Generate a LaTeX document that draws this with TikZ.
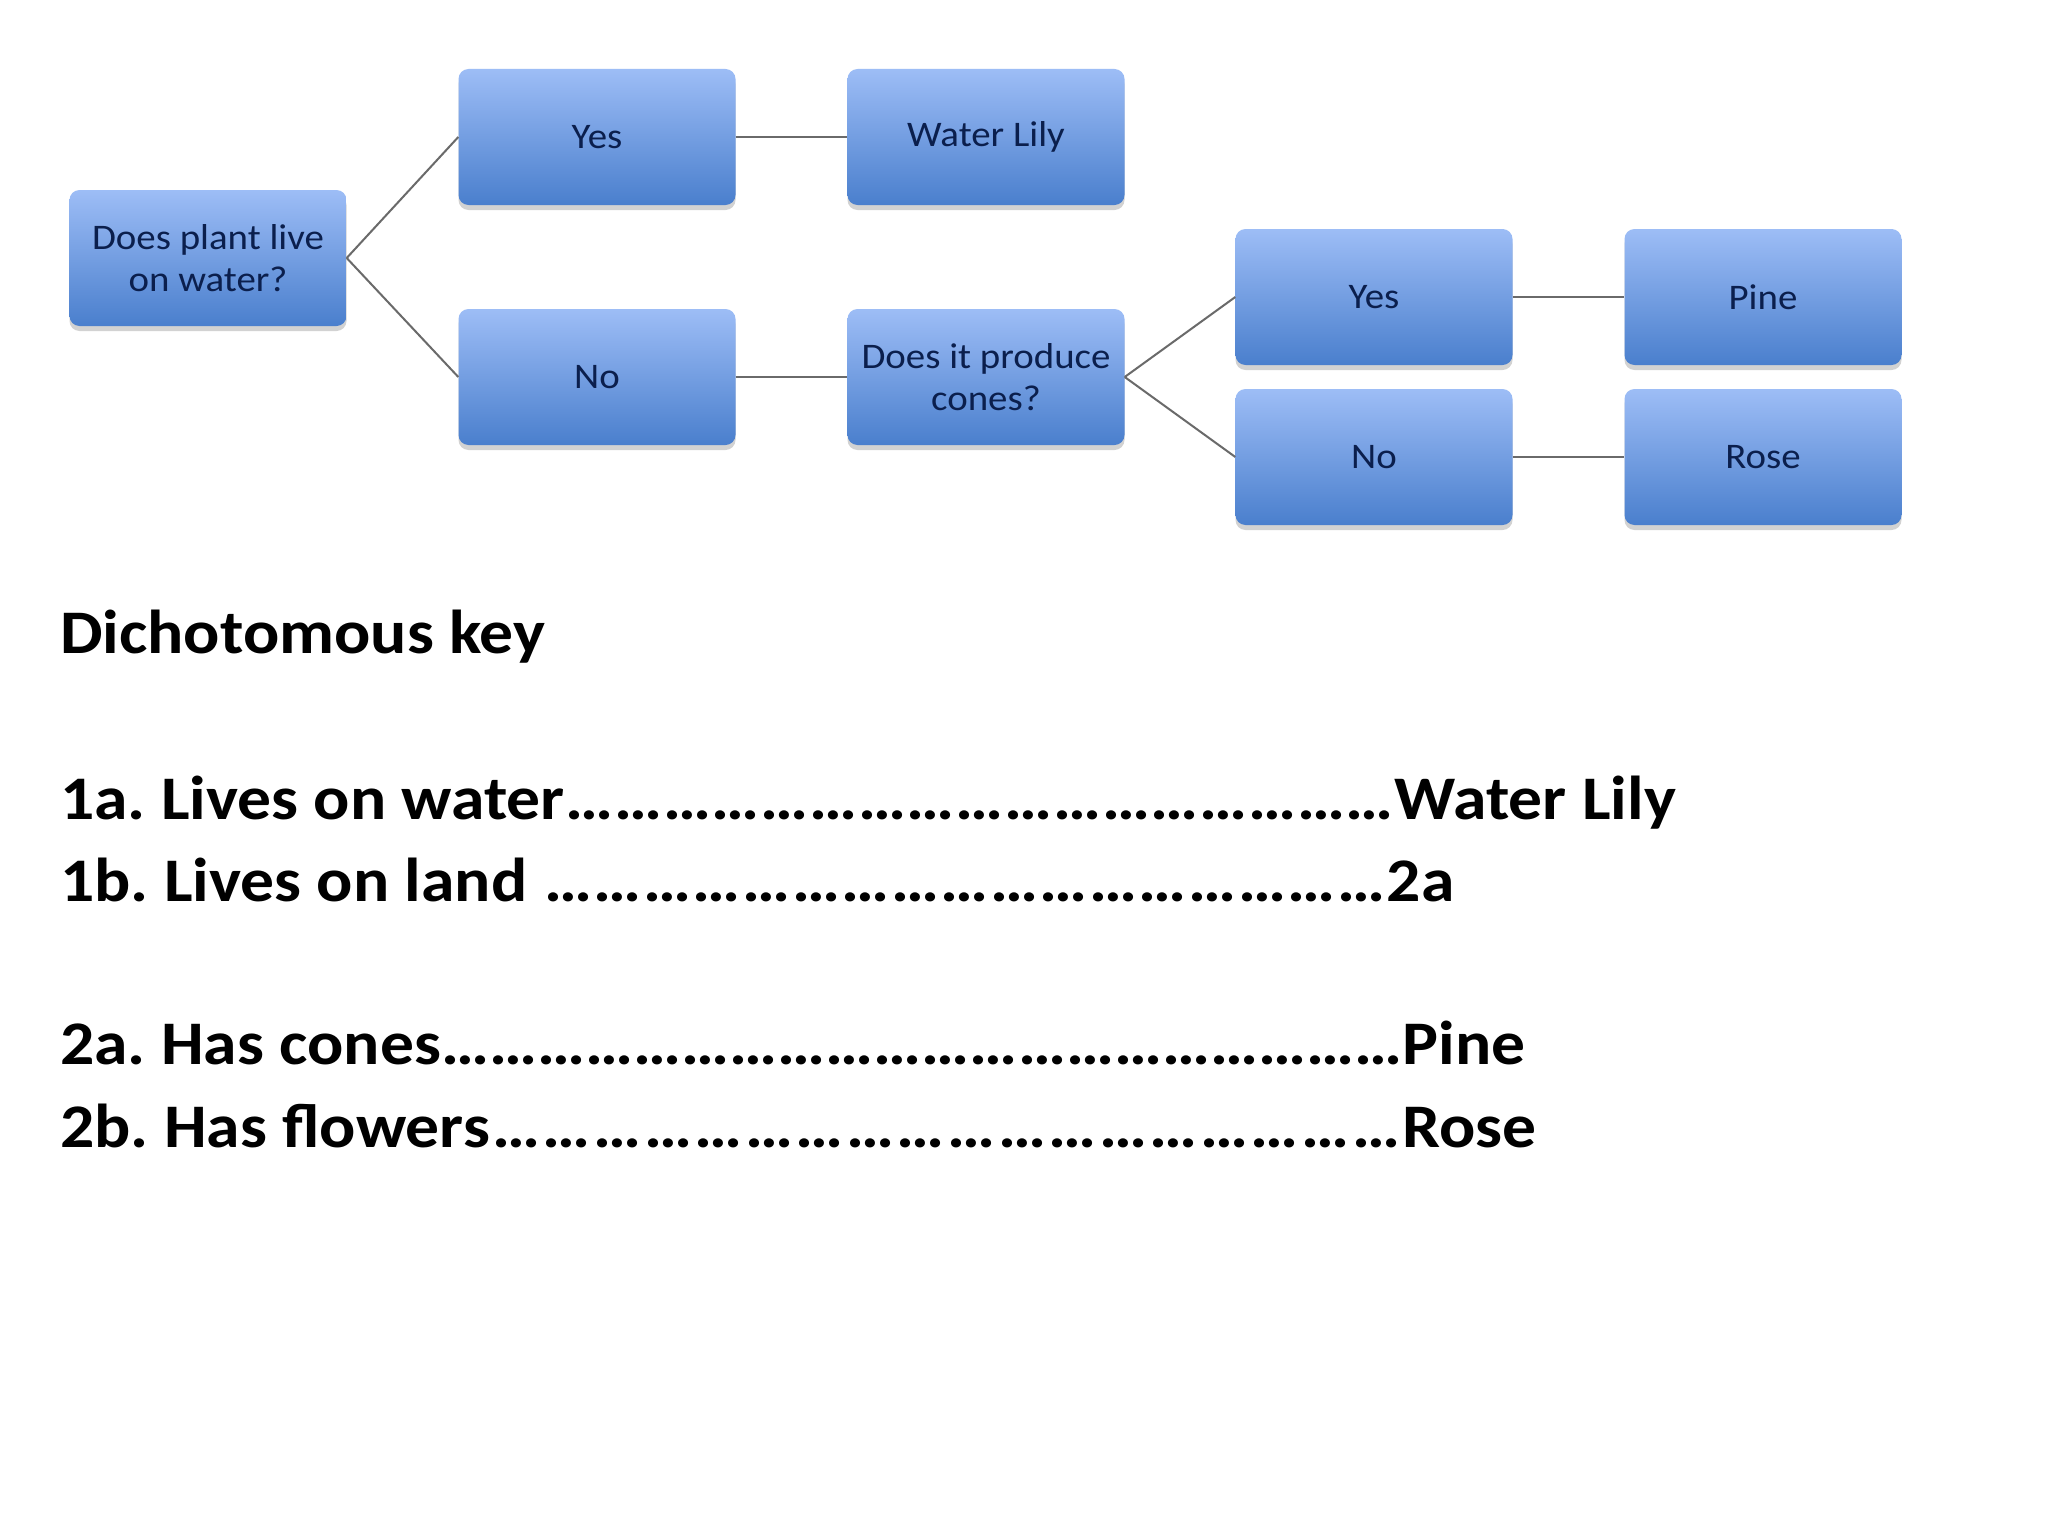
\documentclass[tikz,border=0pt]{standalone}
\usepackage{fontspec}
\setmainfont{Carlito}
\newfontfamily\keyfont[FakeStretch=1.09]{Carlito}
\newfontfamily\boxfont[FakeStretch=1.08]{Carlito}
\usetikzlibrary{shadows}
\definecolor{boxtop}{HTML}{9DBDF6}
\definecolor{boxbot}{HTML}{4A7FCD}
\definecolor{boxtext}{HTML}{0B1F4D}
\definecolor{linkcol}{HTML}{6A6A6A}
\tikzset{
  keybox/.style={rectangle, rounded corners=10pt, minimum width=277pt, minimum height=136pt,
    top color=boxtop, bottom color=boxbot, draw=none, align=center, text=boxtext,
    font=\boxfont\fontsize{36}{42}\selectfont,
    drop shadow={shadow xshift=0pt, shadow yshift=-5pt, fill=black!35, opacity=0.5}},
  link/.style={draw=linkcol, line width=2pt},
  keyline/.style={anchor=base west, inner sep=0pt, font=\keyfont\bfseries\fontsize{62}{68}\selectfont},
}
\frenchspacing
\begin{document}
\begin{tikzpicture}[x=1pt,y=-1pt]
\fill[white] (0,0) rectangle (2048,1536);
\useasboundingbox (0,0) rectangle (2048,1536);
\node[keybox] (q1) at (208,258) {Does plant live\\on water?};
\node[keybox] (yes1) at (597,137) {Yes};
\node[keybox] (wl) at (986,137) {Water Lily};
\node[keybox] (no1) at (597,377) {No};
\node[keybox] (q2) at (986,377) {Does it produce\\cones?};
\node[keybox] (yes2) at (1374,297) {Yes};
\node[keybox] (pine) at (1763,297) {Pine};
\node[keybox] (no2) at (1374,457) {No};
\node[keybox] (rose) at (1763,457) {Rose};
\draw[link] (q1.east) -- (yes1.west);
\draw[link] (q1.east) -- (no1.west);
\draw[link] (yes1) -- (wl);
\draw[link] (no1) -- (q2);
\draw[link] (q2.east) -- (yes2.west);
\draw[link] (q2.east) -- (no2.west);
\draw[link] (yes2) -- (pine);
\draw[link] (no2) -- (rose);
\node[keyline] (title) at (60,653) {Dichotomous key};
\node[keyline] (k1a) at (60,819) {\makebox[1335pt][l]{1a. Lives on water\xleaders\hbox{…}\hfill}Water Lily};
\node[keyline] (k1b) at (60,901) {\makebox[1327pt][l]{1b. Lives on land \xleaders\hbox{…}\hfill}2a};
\node[keyline] (k2a) at (60,1064) {\makebox[1343pt][l]{2a. Has cones\xleaders\hbox{…}\hfill}Pine};
\node[keyline] (k2b) at (60,1147) {\makebox[1343pt][l]{2b. Has flowers\xleaders\hbox{…}\hfill}Rose};
\end{tikzpicture}
\end{document}
